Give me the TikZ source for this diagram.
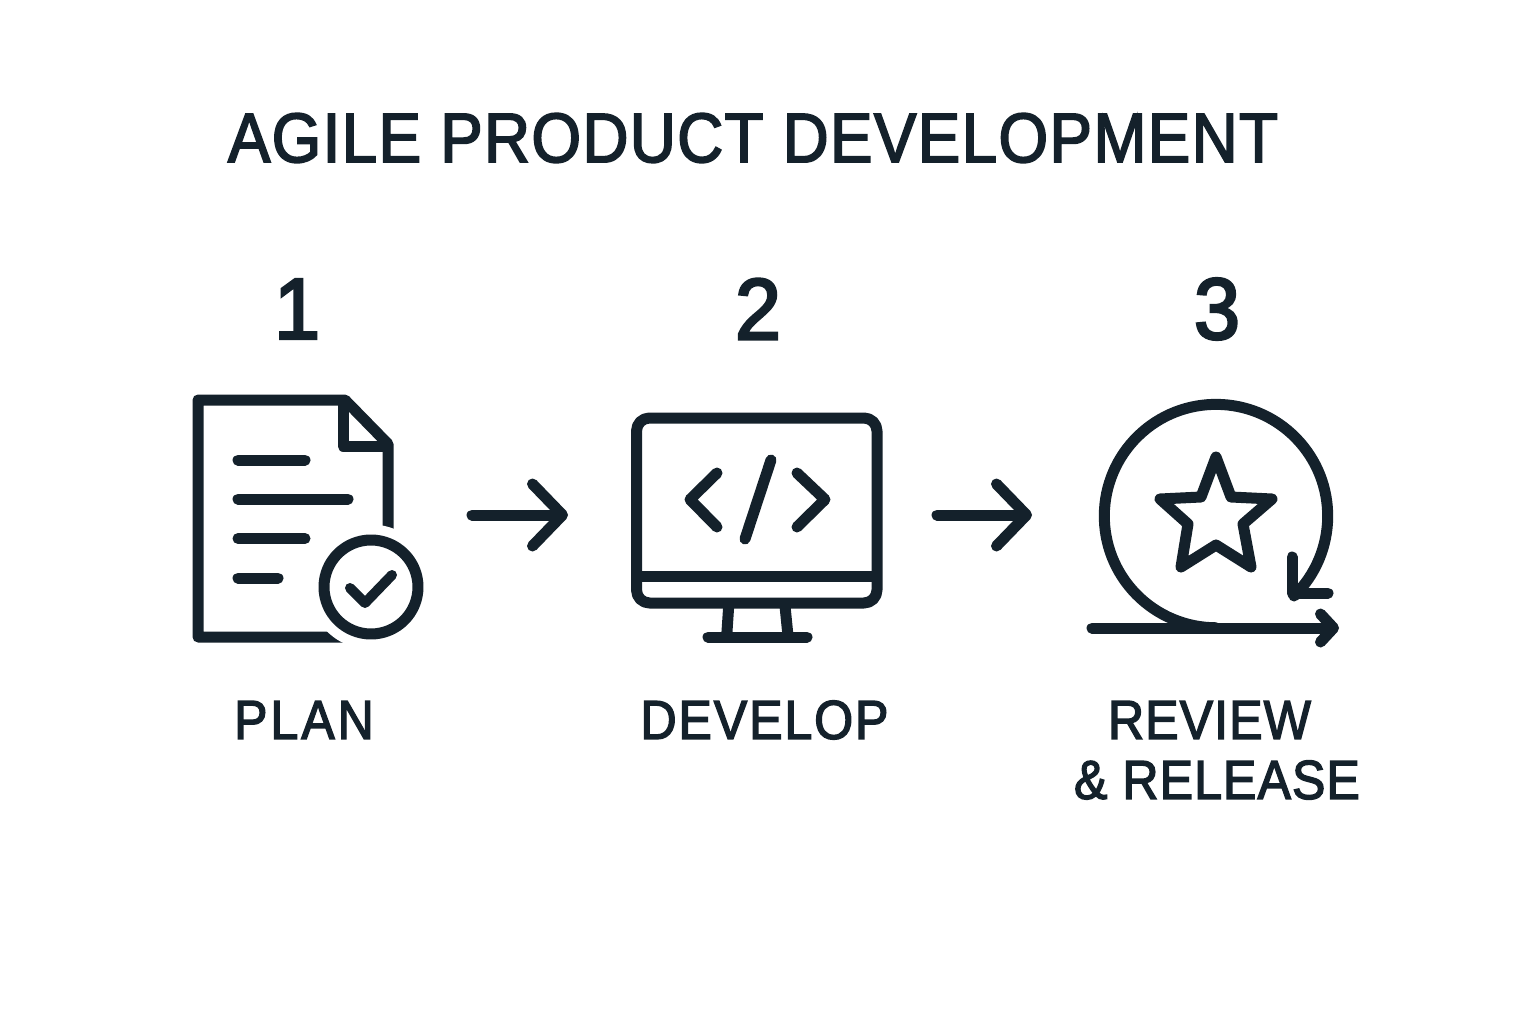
\documentclass[tikz,border=0pt]{standalone}
\usepackage{fontspec}
\usetikzlibrary{arrows.meta}
\newfontfamily\labelfont[FakeBold=2.5,FakeStretch=0.91,LetterSpace=2]{Liberation Sans}
\newfontfamily\widelabelfont[FakeBold=2.5,FakeStretch=0.91,LetterSpace=5.5]{Liberation Sans}
\newfontfamily\midlabelfont[FakeBold=2.5,FakeStretch=0.91,LetterSpace=3.5]{Liberation Sans}
\newfontfamily\numberfont[FakeBold=3,FakeStretch=0.95]{Liberation Sans}
\definecolor{ink}{HTML}{14212B}
\tikzset{
  x=1pt,y=-1pt,
  icon/.style={draw=ink,line width=11pt,line cap=round,line join=round},
  flowarrow/.style={icon,-{Straight Barb[length=30pt,width=62pt,round,line width=11pt]}},
  title/.style={text=ink,inner sep=0pt,font=\labelfont\fontsize{70}{70}\selectfont},
  number/.style={text=ink,inner sep=0pt,font=\numberfont\fontsize{87}{87}\selectfont},
  steplabel/.style={text=ink,inner sep=0pt,font=\labelfont\fontsize{55}{60}\selectfont,align=center},
  widelabel/.style={steplabel,font=\widelabelfont\fontsize{55}{60}\selectfont},
  midlabel/.style={steplabel,font=\midlabelfont\fontsize{55}{60}\selectfont}
}
\begin{document}
\begin{tikzpicture}
\fill[white] (0,0) rectangle (1536,1024);
\useasboundingbox (0,0) rectangle (1536,1024);
% text
\node[title] (heading) at (753,138) {AGILE PRODUCT DEVELOPMENT};
\node[number] (n1) at (297,309) {1};
\node[number] (n2) at (758,309) {2};
\node[number] (n3) at (1217,309) {3};
\node[widelabel] (plan) at (304,720) {PLAN};
\node[midlabel] (develop) at (764.5,720) {DEVELOP};
\node[steplabel] (review) at (1209.5,720) {REVIEW};
\node[steplabel] (release) at (1217,780) {\& RELEASE};
% document icon
\draw[icon] (198,400) -- (345,400) -- (388,444) -- (388,560) -- (388,637) -- (198,637) -- cycle;
\draw[icon] (343,402) -- (343,446) -- (386,446);
\fill[white] (371,587) circle[radius=62.5];
\draw[icon] (371,587) circle[radius=47];
\draw[icon,line width=10pt] (350,588) -- (365,603) -- (392,575);
\draw[icon] (238,460) -- (305,460);
\draw[icon] (238,499) -- (348,499);
\draw[icon] (238,538.5) -- (305,538.5);
\draw[icon] (238,578) -- (278,578);
% monitor icon
\draw[icon,rounded corners=13pt] (636.5,418) rectangle (877,603);
\draw[icon,line cap=butt] (636.5,576) -- (877,576);
\draw[icon,line cap=butt] (728.7,606) -- (726.7,636);
\draw[icon,line cap=butt] (785,606) -- (788,636);
\draw[icon] (708,637) -- (807,637);
\draw[icon] (717,473) -- (690,499.5) -- (717,527);
\draw[icon] (771,460) -- (745,539);
\draw[icon] (797,473) -- (825,499.5) -- (797,527);
% loop icon
\draw[icon] (1294,596) arc[start angle=-45.7,end angle=270,radius=111.7pt];
\draw[icon] (1292,557) -- (1292,593) -- (1328,593);
\draw[icon] (1216,457) -- (1231,497) -- (1272,499) -- (1243,524) -- (1251,567) -- (1216,545) -- (1181,567) -- (1188,524) -- (1160,499) -- (1201,497) -- cycle;
\coordinate (loopstart) at (1092,628);
\coordinate (loopend) at (1339,628);
\draw[icon,-{Straight Barb[length=13pt,width=28pt,round,line width=11pt]}] (loopstart) -- (loopend);
% connectors
\coordinate (planright) at (472,515);
\coordinate (devleft) at (568,515);
\coordinate (devright) at (937,515);
\coordinate (reviewleft) at (1032,515);
\draw[flowarrow] (planright) -- (devleft);
\draw[flowarrow] (devright) -- (reviewleft);
\end{tikzpicture}
\end{document}
